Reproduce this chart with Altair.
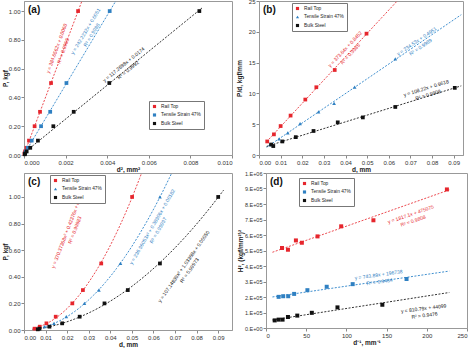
import altair as alt
import pandas as pd

SERIES = ["Rail Top", "Tensile Strain 47%", "Bulk Steel"]
COLORS = ["#e6262d", "#2f80c2", "#111111"]
LINE_COLORS = ["#ec4a50", "#3f8fcf", "#333333"]
FONT = "Liberation Sans"

# ---------------- panel (a): P vs d^2 ----------------
a_rail_x = [0.00002, 0.00005, 0.00012, 0.00024, 0.00051, 0.00077, 0.00130, 0.00260]
a_rail_y = [0.01, 0.025, 0.05, 0.10, 0.20, 0.30, 0.50, 1.00]
a_tens_x = [0.00004, 0.00009, 0.00018, 0.00037, 0.00082, 0.00126, 0.00204, 0.00412]
a_tens_y = [0.01, 0.025, 0.05, 0.10, 0.20, 0.30, 0.50, 1.00]
a_bulk_x = [0.000038, 0.000052, 0.000128, 0.00030, 0.00067, 0.00141, 0.00239, 0.00410, 0.00843]
a_bulk_y = [0.005, 0.01, 0.025, 0.05, 0.10, 0.20, 0.30, 0.50, 1.00]
a_ann_x = [0.00155, 0.00295, 0.00478]
a_ann_y = [0.74, 0.86, 0.63]
a_ann_angle = [290, 301, 321]
a_ann_text = ["y = 384.6562x + 0.0060\nR² = 0.9968",
              "y = 242.2232x + 0.0051\nR² = 0.9988",
              "y = 117.2698x + 0.0174\nR² = 0.9992"]

# ---------------- panel (b): P/d vs d ----------------
b_rail_x = [0.0038, 0.0069, 0.0100, 0.0146, 0.0214, 0.0265, 0.0350, 0.0497]
b_rail_y = [2.2, 3.35, 4.7, 6.4, 9.0, 11.0, 13.8, 19.7]
b_tens_x = [0.0051, 0.0093, 0.0133, 0.0190, 0.0275, 0.0347, 0.0442, 0.0630]
b_tens_y = [1.7, 2.6, 3.6, 5.1, 7.0, 8.4, 11.0, 15.6]
b_bulk_x = [0.0056, 0.0066, 0.0108, 0.0170, 0.0252, 0.0364, 0.0480, 0.0630, 0.0905]
b_bulk_y = [1.7, 1.45, 2.2, 2.9, 3.9, 5.3, 6.1, 7.8, 10.9]
b_ann_x = [0.0397, 0.0728, 0.0772]
b_ann_y = [17.2, 18.5, 10.9]
b_ann_angle = [313, 326, 343]
b_ann_text = ["y = 373.64x + 0.8452\nR² = 0.9985",
              "y = 234.53x + 0.4951\nR² = 0.9989",
              "y = 108.22x + 0.9618\nR² = 0.9908"]

# ---------------- panel (c): P vs d ----------------
c_rail_x = [0.0049, 0.0073, 0.0104, 0.0147, 0.0224, 0.0273, 0.0358, 0.0501]
c_rail_y = [0.01, 0.025, 0.05, 0.10, 0.20, 0.30, 0.50, 1.00]
c_tens_x = [0.0068, 0.0096, 0.0139, 0.0196, 0.0280, 0.0347, 0.0447, 0.0630]
c_tens_y = [0.01, 0.025, 0.05, 0.10, 0.20, 0.30, 0.50, 1.00]
c_bulk_x = [0.0064, 0.0072, 0.0118, 0.0177, 0.0258, 0.0373, 0.0481, 0.0630, 0.0900]
c_bulk_y = [0.005, 0.01, 0.025, 0.05, 0.10, 0.20, 0.30, 0.50, 1.00]
c_ann_x = [0.0204, 0.0593, 0.0739]
c_ann_y = [0.77, 0.776, 0.479]
c_ann_angle = [291, 300, 305]
c_ann_text = ["y = 370.37368x² + 0.42376x + 0.00146\nR² = 0.99983",
              "y = 236.96053x² + 0.38906x + 0.00182\nR² = 0.99997",
              "y = 107.14839x² + 1.03368x + 0.00050\nR² = 0.99973"]

# ---------------- panel (d): H^2 vs 1/d ----------------
d_rail_x = [19.9, 27.3, 37.2, 44.6, 64.1, 93.5, 133.6, 225.0]
d_rail_y = [5.16e5, 5.05e5, 5.65e5, 5.50e5, 5.91e5, 6.56e5, 6.95e5, 8.94e5]
d_tens_x = [15.7, 21.4, 27.6, 35.0, 51.5, 75.5, 107.8, 174.8]
d_tens_y = [2.01e5, 2.05e5, 2.05e5, 2.20e5, 2.44e5, 2.66e5, 2.83e5, 3.16e5]
d_bulk_x = [10.8, 15.7, 20.6, 27.3, 38.9, 57.0, 88.9, 144.7]
d_bulk_y = [0.49e5, 0.54e5, 0.54e5, 0.71e5, 0.80e5, 0.98e5, 1.33e5, 1.50e5]
d_ann_x = [180, 140, 196]
d_ann_y = [7.35e5, 3.45e5, 1.28e5]
d_ann_angle = [341, 352, 353]
d_ann_text = ["y = 1817.1x + 475075\nR² = 0.9808",
              "y = 743.89x + 196738\nR² = 0.9484",
              "y = 810.79x + 44099\nR² = 0.9476"]


def points_frame(xs, ys):
    rows = []
    for s, xv, yv in zip(SERIES, xs, ys):
        rows += [{"series": s, "x": a, "y": b} for a, b in zip(xv, yv)]
    return pd.DataFrame(rows)


def ann_frame(x, y, ang, txt):
    return pd.DataFrame({"series": SERIES, "x": x, "y": y, "angle": ang, "text": txt})


def panel(df, ann, label, xscale, xaxis, yscale, yaxis, shapes, lx, ly,
          method, extent, w, h, size):
    xenc = alt.X("x:Q", scale=xscale, axis=xaxis)
    yenc = alt.Y("y:Q", scale=yscale, axis=yaxis)
    leg = alt.Legend(orient="none", legendX=lx, legendY=ly, title=None,
                     strokeColor="#777777", fillColor="white", padding=3,
                     labelFontSize=4.8, labelFont=FONT, symbolSize=10,
                     rowPadding=2.5, labelOffset=4, labelColor="#222222")
    reg_kwargs = dict(extent=extent, method=method)
    if method == "poly":
        reg_kwargs["order"] = 2
    layers = []
    for s, lc in zip(SERIES, LINE_COLORS):
        layers.append(
            alt.Chart(df).transform_filter(alt.datum.series == s)
            .transform_regression("x", "y", **reg_kwargs)
            .mark_line(strokeDash=[2, 1.5], strokeWidth=1, clip=True, color=lc)
            .encode(x=xenc, y=yenc)
        )
    layers.append(
        alt.Chart(df).mark_point(filled=True, size=size, opacity=1).encode(
            x=xenc, y=yenc,
            color=alt.Color("series:N", scale=alt.Scale(domain=SERIES, range=COLORS), legend=leg),
            shape=alt.Shape("series:N", scale=alt.Scale(domain=SERIES, range=shapes), legend=leg),
        )
    )
    for s, c in zip(SERIES, COLORS):
        layers.append(
            alt.Chart(ann).transform_filter(alt.datum.series == s)
            .mark_text(fontSize=5, lineBreak="\n", font=FONT, color=c)
            .encode(x=xenc, y=yenc, text="text:N", angle=alt.Angle("angle:Q", scale=None))
        )
    layers.append(
        alt.Chart(pd.DataFrame({"t": [label]})).mark_text(
            align="left", baseline="middle", fontSize=10, fontWeight="bold", font=FONT, color="#111111"
        ).encode(x=alt.value(4), y=alt.value(9), text="t:N")
    )
    return alt.layer(*layers).properties(width=w, height=h)


def xax(title, values, fmt, **kw):
    return alt.Axis(title=title, values=values, format=fmt, labelPadding=1, titlePadding=1, **kw)


def yax(title, values, fmt, ext, tpad, **kw):
    return alt.Axis(title=title, values=values, format=fmt, minExtent=ext, maxExtent=ext,
                    titlePadding=tpad, labelPadding=1, **kw)


SQ = ["square", "square", "square"]
TR = ["square", "triangle-up", "square"]

pa = panel(
    points_frame([a_rail_x, a_tens_x, a_bulk_x], [a_rail_y, a_tens_y, a_bulk_y]),
    ann_frame(a_ann_x, a_ann_y, a_ann_angle, a_ann_text), "(a)",
    alt.Scale(domain=[0, 0.010], nice=False, zero=False),
    xax("d², mm²", [0, 0.002, 0.004, 0.006, 0.008, 0.010], ".3f"),
    alt.Scale(domain=[0, 1.07], nice=False, zero=False),
    yax("P, kgf", [0, 0.2, 0.4, 0.6, 0.8, 1.0], ".2f", 14, 2),
    SQ, 125, 100, "linear", [0, 0.0086], 208, 154, 14,
)

pb = panel(
    points_frame([b_rail_x, b_tens_x, b_bulk_x], [b_rail_y, b_tens_y, b_bulk_y]),
    ann_frame(b_ann_x, b_ann_y, b_ann_angle, b_ann_text), "(b)",
    alt.Scale(domain=[0, 0.0943], nice=False, zero=False),
    xax("d, mm", [0, 0.01, 0.02, 0.03, 0.04, 0.05, 0.06, 0.07, 0.08, 0.09], ".2f"),
    alt.Scale(domain=[0, 25], nice=False, zero=False),
    yax("P/d, kgf/mm", [0, 5, 10, 15, 20, 25], "d", 14, 3),
    TR, 33, 2, "linear", [0.0035, 0.0935], 204, 154, 14,
)

pc = panel(
    points_frame([c_rail_x, c_tens_x, c_bulk_x], [c_rail_y, c_tens_y, c_bulk_y]),
    ann_frame(c_ann_x, c_ann_y, c_ann_angle, c_ann_text), "(c)",
    alt.Scale(domain=[0, 0.0964], nice=False, zero=False),
    xax("d, mm", [0, 0.01, 0.02, 0.03, 0.04, 0.05, 0.06, 0.07, 0.08, 0.09], ".2f"),
    alt.Scale(domain=[0, 1.18], nice=False, zero=False),
    yax("P, kgf", [0, 0.2, 0.4, 0.6, 0.8, 1.0], ".2f", 14, 2),
    TR, 26, 2, "poly", [0.004, 0.0925], 208, 157, 14,
)

pd_ = panel(
    points_frame([d_rail_x, d_tens_x, d_bulk_x], [d_rail_y, d_tens_y, d_bulk_y]),
    ann_frame(d_ann_x, d_ann_y, d_ann_angle, d_ann_text), "(d)",
    alt.Scale(domain=[0, 250], nice=False, zero=False),
    xax("d⁻¹, mm⁻¹", [0, 50, 100, 150, 200, 250], "d"),
    alt.Scale(domain=[0, 1e6], nice=False, zero=False),
    yax("H², (kgf/mm²)²", [i * 1e5 for i in range(11)], "d", 22, 1,
        labelExpr="datum.value == 0 ? '0.E+00' : (datum.value > 950000 ? '1.E+06' : format(datum.value / 100000, '.0f') + '.E+05')",
        labelFontSize=5.5),
    SQ, 33, 5, "linear", [8, 228], 201, 155, 16,
)

res = dict(color="independent", shape="independent", x="independent", y="independent")

row1 = alt.hconcat(pa, pb, spacing=2).resolve_scale(**res).resolve_legend(color="independent", shape="independent")
row2 = alt.hconcat(pc, pd_, spacing=3).resolve_scale(**res).resolve_legend(color="independent", shape="independent")

chart = alt.vconcat(row1, row2, spacing=-3).resolve_scale(**res).resolve_legend(
    color="independent", shape="independent"
).properties(
    padding={"left": 1, "top": -3, "right": 1, "bottom": 0},
    background="white",
).configure_view(
    stroke="#999999", strokeWidth=1
).configure_axis(
    grid=False, labelFont=FONT, titleFont=FONT, labelFontSize=6, titleFontSize=6.5,
    titleFontWeight="bold", labelColor="#333333", titleColor="#222222",
    tickColor="#888888", tickSize=3, domainColor="#999999", domainWidth=1,
).configure_legend(
    labelFont=FONT
)

chart.save("out.html", embed_options={"renderer": "svg", "actions": False})
